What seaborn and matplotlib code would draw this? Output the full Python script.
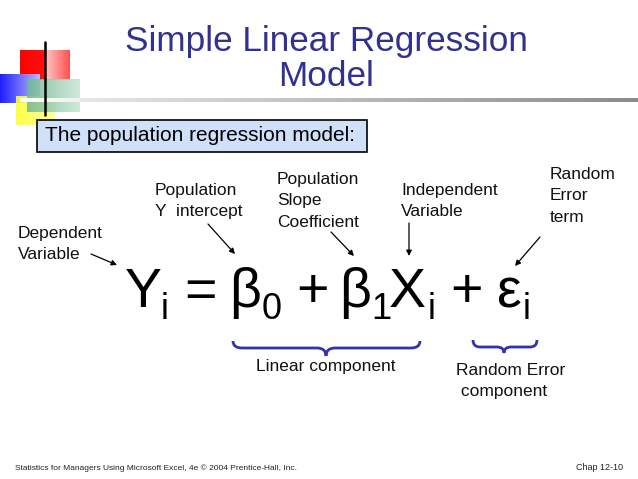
import numpy as np
import matplotlib
matplotlib.use("Agg")
import matplotlib.pyplot as plt
import seaborn as sns
from matplotlib.colors import LinearSegmentedColormap
from matplotlib.path import Path
from matplotlib.patches import PathPatch, Rectangle

# slide text
title_lines = ["Simple Linear Regression", "Model"]
box_text = "The population regression model:"
label_texts = ["Dependent\nVariable", "Population\nY  intercept",
               "Population\nSlope\nCoefficient", "Independent\nVariable",
               "Random\nError\nterm"]
eq_tokens = ["Y", "i", "=", "\u03b2", "0", "+", "\u03b2", "1", "X", "i", "+", "\u03b5", "i"]
eq_is_sub = [False, True, False, False, True, False, False, True, False, True, False, False, True]
component_labels = ["Linear component", "Random Error\n component"]
footer_left = "Statistics for Managers Using Microsoft Excel, 4e \u00a9 2004 Prentice-Hall, Inc."
footer_right = "Chap 12-10"

sns.set_theme(style="white")
plt.rcParams['font.family'] = ['Liberation Sans', 'DejaVu Sans']

W, H = 638, 479
fig = plt.figure(figsize=(6.38, 4.79), dpi=100)
ax = fig.add_axes([0, 0, 1, 1])

def grad_rect(x0, x1, y0, y1, c0, c1, z, alpha=1.0):
    cmap = LinearSegmentedColormap.from_list("g", [c0, c1])
    ax.imshow(np.linspace(0, 1, 64)[None, :], cmap=cmap, extent=(x0, x1, y1, y0),
              aspect='auto', zorder=z, alpha=alpha, interpolation='bilinear')

# top-left decoration
grad_rect(20, 45, 50, 80, "#ff0000", "#ff1010", 1)
grad_rect(45, 70, 50, 80, "#ffc8c8", "#ff5050", 1)
grad_rect(0, 40, 74, 103, "#2020ff", "#b8b8ff", 2)
grad_rect(27, 80, 79, 112, "#70b890", "#c8e4d4", 3, alpha=0.85)
grad_rect(16, 55, 96, 125, "#ffff30", "#ffff90", 2.5, alpha=0.9)
grad_rect(20, 80, 98.5, 102, "#ffffff", "#f0f0f0", 4)
grad_rect(80, W, 98.5, 102, "#e6e6e6", "#8c8c8c", 4)
ax.plot([45, 45], [42, 115], color="black", lw=1.8, zorder=5)

# title
title_base = [51, 86]
for line, yb in zip(title_lines, title_base):
    ax.text(326, yb, line, ha='center', va='baseline', fontsize=25.3, color="#31318f")

# boxed subtitle
ax.add_patch(Rectangle((37, 120), 330, 32, facecolor="#cfe0f8", edgecolor="black", lw=1.2, zorder=3))
ax.text(45, 141, box_text, ha='left', va='baseline', fontsize=15, color="black", zorder=4)

# labels above the equation
label_pos = [(18, 244), (155, 201), (277, 201), (401, 201), (550, 196)]
for txt, (x, y) in zip(label_texts, label_pos):
    ax.text(x, y, txt, ha='left', va='center', fontsize=12.5, linespacing=1.55, color="#111111")

# arrows
arrows = [((91, 254), (117, 265)), ((208, 224), (235, 254)), ((331, 232), (354, 256)),
          ((409, 223), (409, 256)), ((540, 237), (515, 266))]
for (xa, ya), (xb, yb) in arrows:
    ax.annotate("", xy=(xb, yb), xytext=(xa, ya),
                arrowprops=dict(arrowstyle="-|>", color="black", lw=0.9,
                                mutation_scale=8, shrinkA=0, shrinkB=0))

# equation
eq_x = [125, 161, 184, 229, 262, 296, 339, 371, 389, 428, 450, 496, 523]
for tok, sub, x in zip(eq_tokens, eq_is_sub, eq_x):
    ax.text(x, 319 if sub else 307, tok, ha='left', va='baseline',
            fontsize=26 if sub else 40, color="black")

# braces
def brace(x0, x1, xm, y_end, y_flat, y_tip, q):
    verts = [(x0, y_end), (x0, y_flat), (x0 + q, y_flat),
             (xm - q, y_flat),
             (xm, y_flat), (xm, y_tip),
             (xm, y_flat), (xm + q, y_flat),
             (x1 - q, y_flat),
             (x1, y_flat), (x1, y_end)]
    codes = [Path.MOVETO, Path.CURVE3, Path.CURVE3, Path.LINETO,
             Path.CURVE3, Path.CURVE3, Path.CURVE3, Path.CURVE3,
             Path.LINETO, Path.CURVE3, Path.CURVE3]
    ax.add_patch(PathPatch(Path(verts, codes), facecolor='none', edgecolor="#3333aa", lw=2, zorder=3))

brace(233, 420, 326, 341, 348, 356, 9)
brace(473, 537, 504, 340, 347, 353, 7)

ax.text(256, 366, component_labels[0], ha='left', va='center', fontsize=12.5, color="#111111")
ax.text(456, 381, component_labels[1], ha='left', va='center', fontsize=12.5, linespacing=1.55, color="#111111")

# footer
ax.text(15, 468, footer_left, ha='left', va='center', fontsize=6, color="#222222")
ax.text(623, 468, footer_right, ha='right', va='center', fontsize=6.5, color="#222222")

ax.set_xlim(0, W)
ax.set_ylim(H, 0)
ax.axis('off')
fig.savefig("out.png", dpi=100)
